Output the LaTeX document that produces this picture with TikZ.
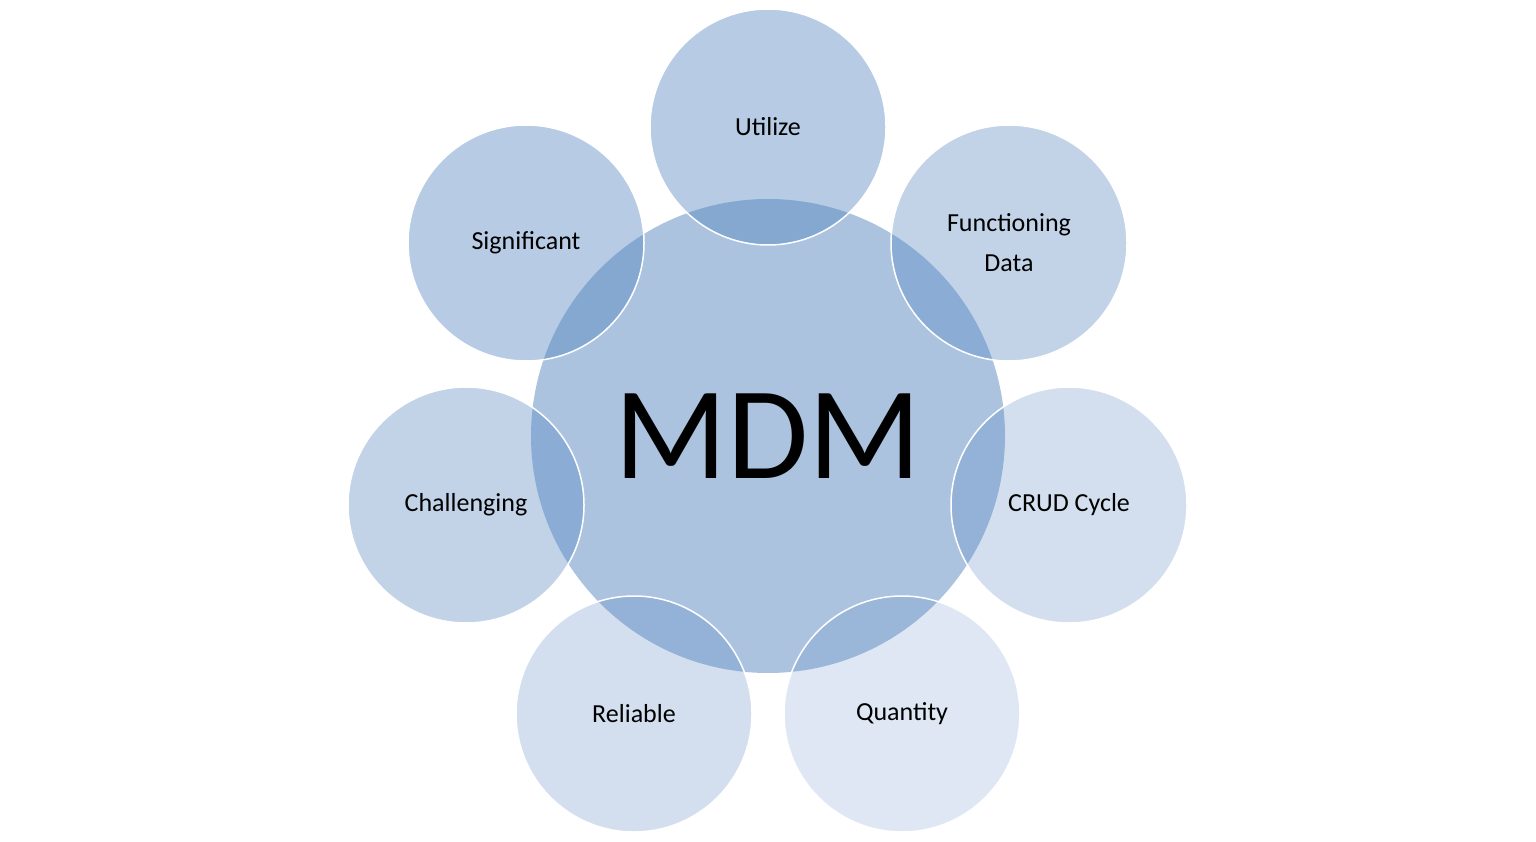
\documentclass[tikz,border=0pt]{standalone}
\usepackage{fontspec}
\setmainfont{Carlito}
\definecolor{base}{RGB}{79,129,189}
\begin{document}
\begin{tikzpicture}[x=1pt,y=-1pt,
  outer/.style={circle,minimum size=236pt,inner sep=0pt,draw=white,line width=1.5pt,fill=base,align=center,font=\fontsize{26}{40}\selectfont,text opacity=1}]
\useasboundingbox (0,0) rectangle (1536,842);
\node[circle,minimum size=474pt,inner sep=0pt,fill=base,fill opacity=0.48,text opacity=1,font=\fontsize{132}{132}\selectfont] (mdm) at (768,436) {MDM};
\node[outer,fill opacity=0.41] (u) at (768,127) {Utilize};
\node[outer,fill opacity=0.35] (f) at (1009,243) {Functioning\\Data};
\node[outer,fill opacity=0.25] (c) at (1069,505) {CRUD Cycle};
\node[outer,fill opacity=0.19] (q) at (902,714) {Quantity};
\node[outer,fill opacity=0.25] (r) at (634,714) {Reliable};
\node[outer,fill opacity=0.35] (ch) at (466,505) {Challenging};
\node[outer,fill opacity=0.41] (s) at (526,243) {Significant};
\end{tikzpicture}
\end{document}
